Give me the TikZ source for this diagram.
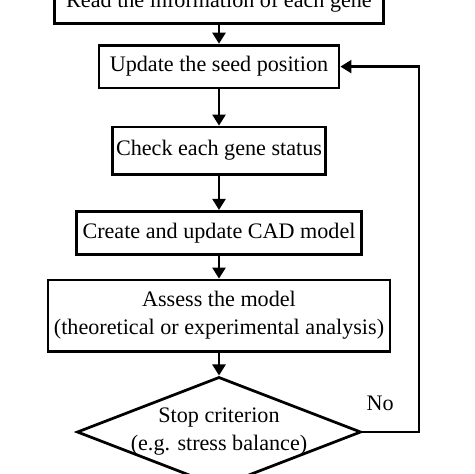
\documentclass[tikz,border=0pt]{standalone}
\usepackage{fontspec}
\setmainfont{Liberation Serif}
\usetikzlibrary{arrows.meta,positioning,shapes.geometric}

\begin{document}
\begin{tikzpicture}[
  font=\fontsize{21}{26.5}\selectfont,
  stepbox/.style={draw,line width=2.6pt,align=center,minimum height=1.43cm,inner sep=3pt},
  test/.style={draw,diamond,line width=2.6pt,minimum width=9.47cm,minimum height=3.67cm,inner sep=0pt},
  arr/.style={-{Triangle[length=3.7mm,width=4.3mm]},line width=2.6pt},
]
\useasboundingbox (0,0) rectangle (15.8,-15.8);
% steps
\node[stepbox,minimum width=10.97cm] (read) at (7.3,-0.08) {Read the information of each gene};
\node[stepbox,minimum width=8.0cm] (upd) at (7.3,-2.22) {Update the seed position};
\node[stepbox,minimum width=7.03cm,minimum height=1.57cm] (check) at (7.3,-5.02) {Check each gene status};
\node[stepbox,minimum width=9.5cm] (cad) at (7.3,-7.76) {Create and update CAD model};
\node[stepbox,minimum width=11.4cm,minimum height=2.37cm] (assess) at (7.3,-10.52) {Assess the model\\(theoretical or experimental analysis)};
% decision
\node[test,label={[align=center]center:Stop criterion\\(e.g. stress balance)}] (stop) at (7.3,-14.4) {};
\node (no) at (12.67,-13.43) {No};
\coordinate (turn) at (13.97,-14.4);
% arrows
\draw[arr] (read)--(upd); \draw[arr] (upd)--(check); \draw[arr] (check)--(cad);
\draw[arr] (cad)--(assess); \draw[arr] (assess)--(stop);
\draw[arr] (stop.east)--(turn)|-(upd.east);
\end{tikzpicture}
\end{document}
